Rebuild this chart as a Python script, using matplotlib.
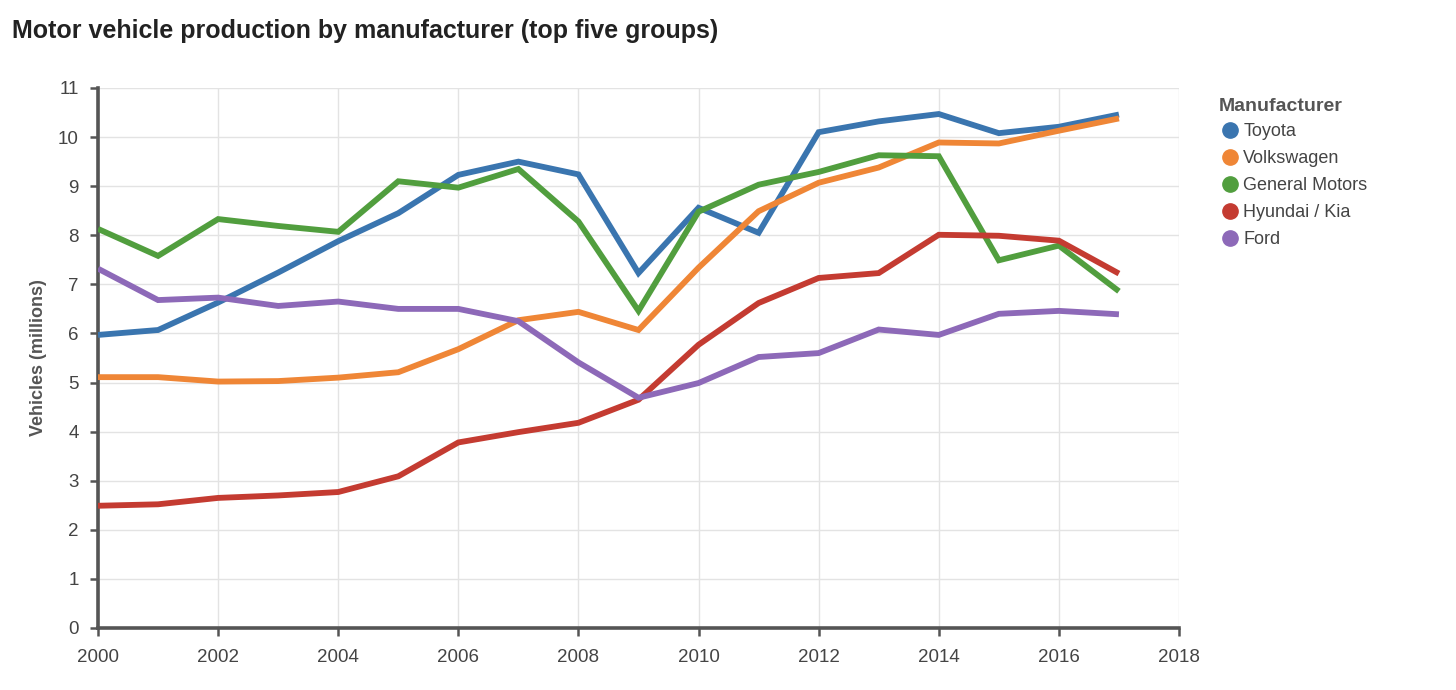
import matplotlib.pyplot as plt
from matplotlib.lines import Line2D

plt.rcParams["font.family"] = ["Liberation Sans", "DejaVu Sans"]

# ----------------- Data -----------------
years = list(range(2000, 2018))

toyota = [5.97, 6.07, 6.63, 7.24, 7.88, 8.45, 9.23, 9.50, 9.24, 7.23,
          8.56, 8.05, 10.10, 10.32, 10.47, 10.08, 10.21, 10.46]
volkswagen = [5.11, 5.11, 5.02, 5.03, 5.10, 5.21, 5.68, 6.27, 6.44, 6.07,
              7.34, 8.49, 9.07, 9.38, 9.89, 9.87, 10.13, 10.38]
general_motors = [8.13, 7.58, 8.33, 8.19, 8.07, 9.10, 8.97, 9.35, 8.28, 6.46,
                  8.48, 9.03, 9.29, 9.63, 9.61, 7.49, 7.79, 6.86]
hyundai_kia = [2.49, 2.52, 2.65, 2.70, 2.77, 3.09, 3.78, 3.99, 4.18, 4.65,
               5.77, 6.62, 7.13, 7.23, 8.01, 7.99, 7.89, 7.22]
ford = [7.32, 6.68, 6.73, 6.56, 6.65, 6.50, 6.50, 6.25, 5.41, 4.69,
        4.99, 5.52, 5.60, 6.08, 5.97, 6.40, 6.46, 6.39]

names = ["Toyota", "Volkswagen", "General Motors", "Hyundai / Kia", "Ford"]
series = [toyota, volkswagen, general_motors, hyundai_kia, ford]
colors = ["#3a75af", "#ef8636", "#519e3e", "#c43b31", "#8d69b8"]

# ----------------- Plot -----------------
fig = plt.figure(figsize=(14.56, 6.9), dpi=100)
ax = fig.add_axes([98 / 1456, 1 - 628 / 690, (1179 - 98) / 1456, (628 - 88) / 690])

for name, vals, col in zip(names, series, colors):
    ax.plot(years, vals, color=col, linewidth=4.2, solid_joinstyle="miter",
            solid_capstyle="butt", label=name, zorder=3)

ax.set_xlim(2000, 2018)
ax.set_ylim(0, 11)
ax.set_xticks(range(2000, 2019, 2))
ax.set_yticks(range(0, 12))
ax.grid(color="#e3e3e3", linewidth=1.0, zorder=0)

for side in ["top", "right"]:
    ax.spines[side].set_visible(False)
for side in ["left", "bottom"]:
    ax.spines[side].set_color("#555555")
    ax.spines[side].set_linewidth(2.6)

ax.tick_params(colors="#555555", labelcolor="#444444", labelsize=13.5,
               length=6, width=1.8)
ax.tick_params(axis="x", pad=9)
ax.tick_params(axis="y", pad=8)
ax.set_ylabel("Vehicles (millions)", fontsize=13, fontweight="bold",
              color="#555555", labelpad=8)

fig.text(12 / 1456, 1 - 31 / 690, "Motor vehicle production by manufacturer (top five groups)",
         fontsize=18, fontweight="bold", color="#222222", va="center", ha="left")

# ----------------- Legend -----------------
handles = [
    Line2D([0], [0], marker="o", color="none", markerfacecolor=c,
           markeredgecolor=c, markersize=11, label=n)
    for n, c in zip(names, colors)
]
leg = fig.legend(handles=handles, title="Manufacturer", loc="upper left",
                 bbox_to_anchor=(1210 / 1456, 1 - 89 / 690), frameon=False,
                 fontsize=13, title_fontsize=14, handletextpad=0.15,
                 labelspacing=0.55, handlelength=1.2, borderpad=0)
leg.get_title().set_fontweight("bold")
leg.get_title().set_color("#555555")
leg._legend_box.align = "left"
leg._legend_box.sep = 6
for t in leg.get_texts():
    t.set_color("#444444")

fig.savefig("out.png", dpi=100)
